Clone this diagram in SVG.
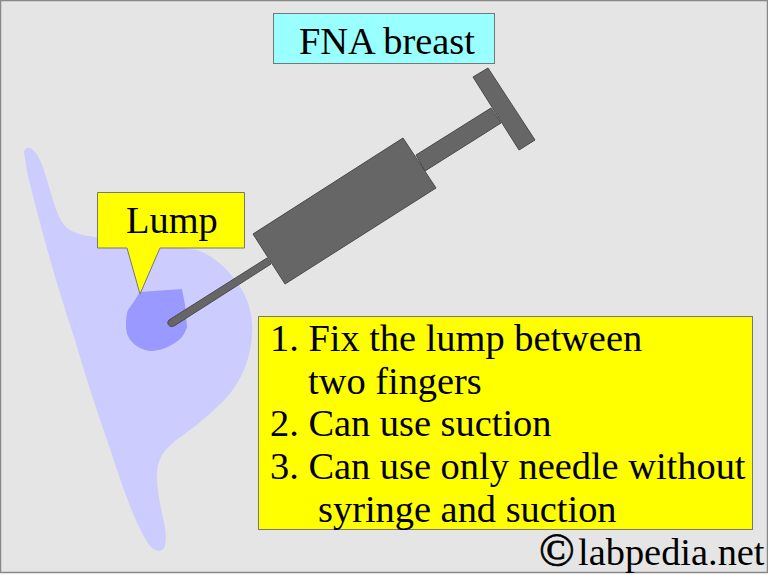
<svg xmlns="http://www.w3.org/2000/svg" width="768" height="575" viewBox="0 0 768 575">
<style>
text{font-family:"Liberation Serif","Times New Roman",serif;fill:#000}
.t{font-size:38.400px}
.s{fill:#666;stroke:#4a4a4a;stroke-width:1}
.b{stroke:#777;stroke-width:1}
</style>
<rect width="768" height="575" fill="#fff"/>
<rect x="0.5" y="0.5" width="767" height="572" fill="#e5e5e5" stroke="#888" stroke-width="1.5"/>
<g id="breast">
<path fill="#ccccff" d="M24 152C25 146 31 147 35 152C42 160 47 180 52 197C58 217 63 228 74 232C82 236 95 237 115 239L197 250C215 256 232 273 242 290C252 308 254 325 251 345C247 368 238 385 226 398C213 412 198 424 186 433C172 443 162 450 158 465C155 480 159 500 163 518C166 530 167 542 164 548C160 553 155 551 150 546C135 525 122 485 107 440C95 405 85 375 75 340C55 280 40 225 27 172Z"/>
<path fill="#9999ff" d="M140 292L182 289L185 305L187 327C184 336 180 340 173 344C165 349 157 351 150 351C143 350 137 347 133 343C128 338 126 333 126 325C126 318 127 312 128 310L133 303Z"/>
</g>
<g id="syringe">
<path class="s" d="M169 320L267 258L271 264L174 326C169 328 166 323 169 320Z"/>
<polygon class="s" points="416,155 491,108 501,123 425,171"/>
<polygon class="s" points="473,77 488,68 535,140 519,150"/>
<polygon class="s" points="253,234 403,138 436,188 285,284"/>
</g>
<g id="title">
<rect class="b" x="273.500" y="13.500" width="221" height="50" fill="#99ffff"/>
<text class="t" x="299" y="54">FNA breast</text>
</g>
<g id="lump">
<path class="b" fill="#ffff00" d="M97.500 192.500H244.500V248H160L140 294L127 248H97.500Z"/>
<text class="t" x="126" y="233">Lump</text>
</g>
<g id="steps">
<rect class="b" x="258.500" y="316.500" width="494" height="213" fill="#ffff00"/>
<text class="t" x="270" y="351">1. Fix the lump between</text>
<text class="t" x="308" y="394">two fingers</text>
<text class="t" x="270" y="436">2. Can use suction</text>
<text class="t" x="270" y="479">3. Can use only needle without</text>
<text class="t" x="318" y="522">syringe and suction</text>
</g>
<g id="credit">
<text x="539" y="566" font-size="47" stroke="#000" stroke-width="0.7">©</text>
<text x="578" y="565" font-size="38.400">labpedia.net</text>
</g>
</svg>
